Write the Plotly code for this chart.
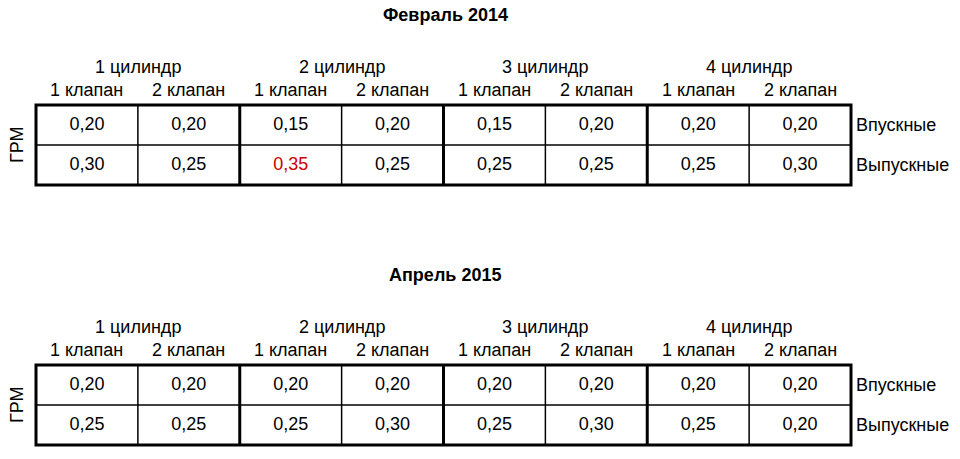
import plotly.graph_objects as go

titles = ["Февраль 2014", "Апрель 2015"]
cylinders = ["1 цилиндр", "2 цилиндр", "3 цилиндр", "4 цилиндр"]
valves = ["1 клапан", "2 клапан"]
rows = ["Впускные", "Выпускные"]
feb_intake = ["0,20", "0,20", "0,15", "0,20", "0,15", "0,20", "0,20", "0,20"]
feb_exhaust = ["0,30", "0,25", "0,35", "0,25", "0,25", "0,25", "0,25", "0,30"]
apr_intake = ["0,20", "0,20", "0,20", "0,20", "0,20", "0,20", "0,20", "0,20"]
apr_exhaust = ["0,25", "0,25", "0,25", "0,30", "0,25", "0,30", "0,25", "0,20"]
highlight = {(0, 1, 2)}  # (table, row, col) in red

tables = [(feb_intake, feb_exhaust), (apr_intake, apr_exhaust)]
FONT = "Liberation Sans, Arial, sans-serif"
FS = 18
x0, x1 = 36, 851
cw = (x1 - x0) / 8
tops = [105, 365]
rh = 40

fig = go.Figure()
shapes = []
ann = []
for t, (intake, exhaust) in enumerate(tables):
    top = tops[t]
    ann.append(dict(x=445, y=top - 90, text="<b>" + titles[t] + "</b>", font=dict(size=FS)))
    for c, name in enumerate(cylinders):
        ann.append(dict(x=x0 + cw * (2 * c + 1), y=top - 38, text=name, font=dict(size=FS)))
        for v, vn in enumerate(valves):
            ann.append(dict(x=x0 + cw * (2 * c + v + 0.5), y=top - 15, text=vn, font=dict(size=FS)))
    ann.append(dict(x=17, y=top + rh, text="ГРМ", textangle=-90, font=dict(size=FS)))
    xs, ys, txt, cols = [], [], [], []
    for r, vals in enumerate([intake, exhaust]):
        ann.append(dict(x=x1 + 3, y=top + rh * (r + 0.5), text=rows[r], xanchor="left", font=dict(size=FS)))
        for c, val in enumerate(vals):
            xs.append(x0 + cw * (c + 0.5))
            ys.append(top + rh * (r + 0.5))
            txt.append(val)
            cols.append("#cc0000" if (t, r, c) in highlight else "black")
    fig.add_trace(go.Scatter(x=xs, y=ys, text=txt, mode="text", textfont=dict(size=FS, color=cols, family=FONT),
                             hoverinfo="skip", showlegend=False))
    for c in range(1, 8, 2):
        shapes.append(dict(type="line", x0=x0 + cw * c, x1=x0 + cw * c, y0=top, y1=top + 2 * rh, line=dict(width=1.5, color="black")))
    shapes.append(dict(type="line", x0=x0, x1=x1, y0=top + rh, y1=top + rh, line=dict(width=1.5, color="black")))
    for c in range(2, 8, 2):
        shapes.append(dict(type="line", x0=x0 + cw * c, x1=x0 + cw * c, y0=top, y1=top + 2 * rh, line=dict(width=3, color="black")))
    shapes.append(dict(type="rect", x0=x0, x1=x1, y0=top, y1=top + 2 * rh, line=dict(width=3, color="black")))

for a in ann:
    a.update(showarrow=False, xref="x", yref="y")
    a.setdefault("xanchor", "center")
    a["font"]["family"] = FONT
    a["font"]["color"] = "black"

# page body adds ~8px offset; shift ranges to compensate
fig.update_layout(width=960, height=459, margin=dict(l=0, r=0, t=0, b=0),
                  plot_bgcolor="white", paper_bgcolor="white",
                  shapes=shapes, annotations=ann,
                  xaxis=dict(range=[8, 968], visible=False, fixedrange=True),
                  yaxis=dict(range=[467, 8], visible=False, fixedrange=True))
fig.write_html("out.html")
